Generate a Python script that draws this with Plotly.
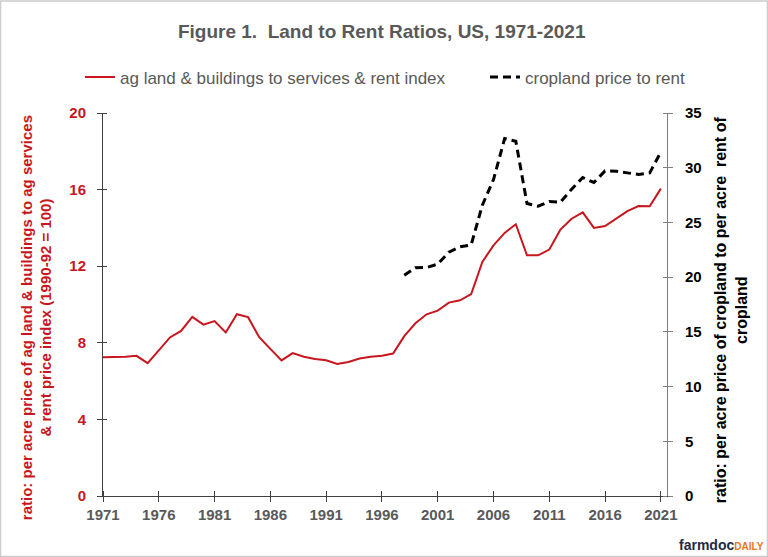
import plotly.graph_objects as go

years = list(range(1971, 2022))
ag_land_ratio = [7.24, 7.24, 7.27, 7.32, 6.94, 7.6, 8.28, 8.62, 9.35, 8.95,
                 9.13, 8.54, 9.49, 9.34, 8.29, 7.68, 7.08, 7.46, 7.27, 7.15,
                 7.09, 6.89, 7.0, 7.18, 7.27, 7.32, 7.44, 8.35, 9.02, 9.49,
                 9.68, 10.1, 10.22, 10.54, 12.22, 13.09, 13.74, 14.19, 12.57, 12.57,
                 12.87, 13.91, 14.48, 14.81, 14.0, 14.1, 14.5, 14.88, 15.14, 15.13,
                 16.05]
crop_years = list(range(1998, 2022))
cropland_ratio = [20.18, 20.85, 20.88, 21.19, 22.28, 22.77, 22.95, 26.58, 28.92, 32.67,
                  32.42, 26.73, 26.48, 26.91, 26.85, 28.04, 29.1, 28.65, 29.71, 29.68,
                  29.53, 29.38, 29.53, 31.44]
x_ticks = list(range(1971, 2022, 5))
left_ticks = [0, 4, 8, 12, 16, 20]
right_ticks = [0, 5, 10, 15, 20, 25, 30, 35]

RED = "#C8161E"
GRAY = "#595959"
FONT = "Liberation Sans, Arial, sans-serif"

fig = go.Figure()
fig.add_trace(go.Scatter(x=years, y=ag_land_ratio, mode="lines",
                         name="ag land & buildings to services & rent index",
                         line=dict(color=RED, width=2), yaxis="y", legend="legend"))
fig.add_trace(go.Scatter(x=crop_years, y=cropland_ratio, mode="lines",
                         name="cropland price to rent",
                         line=dict(color="black", width=3, dash="8px,5px"), yaxis="y2",
                         legend="legend2"))

legend_common = dict(orientation="h", xanchor="left", y=1.093, yanchor="middle",
                     font=dict(size=17, color=GRAY, family=FONT),
                     bgcolor="rgba(0,0,0,0)")

fig.update_layout(
    width=768, height=557, autosize=False,
    paper_bgcolor="white", plot_bgcolor="white",
    margin=dict(l=103, r=101, t=113, b=61),
    font=dict(family=FONT, size=15, color=GRAY),
    title=dict(text="<b>Figure 1.  Land to Rent Ratios, US, 1971-2021</b>",
               x=0.497, xref="container", xanchor="center",
               y=1 - 31 / 557, yref="container", yanchor="middle",
               font=dict(size=19, color=GRAY, family=FONT)),
    showlegend=True,
    legend=dict(x=(80 - 103) / 564, **legend_common),
    legend2=dict(x=(485 - 103) / 564, **legend_common),
    xaxis=dict(range=[1971, 2021.55], tickmode="array", tickvals=x_ticks,
               ticktext=[str(v) for v in x_ticks],
               showgrid=False, zeroline=False, showline=True, linecolor="#404040", linewidth=1,
               ticks="outside", ticklen=5, tickcolor="#404040",
               minor=dict(tickmode="array", tickvals=x_ticks, ticks="inside", ticklen=5,
                          tickcolor="#404040", showgrid=False),
               tickfont=dict(size=15, color=GRAY, family=FONT, weight="bold"),
               ticklabelstandoff=0),
    yaxis=dict(range=[0, 20], tickmode="array", tickvals=left_ticks,
               showgrid=False, zeroline=False, showline=True, linecolor="#404040", linewidth=1,
               ticks="outside", ticklen=5, tickcolor="#404040",
               minor=dict(tickmode="array", tickvals=left_ticks, ticks="inside", ticklen=4,
                          tickcolor="#404040", showgrid=False),
               tickfont=dict(size=15, color=RED, family=FONT, weight="bold"),
               ticklabelstandoff=8),
    yaxis2=dict(range=[0, 35], tickmode="array", tickvals=right_ticks,
                overlaying="y", side="right",
                showgrid=False, zeroline=False, showline=True, linecolor="#808080", linewidth=1,
                ticks="outside", ticklen=5, tickcolor="#808080",
                minor=dict(tickmode="array", tickvals=right_ticks, ticks="inside", ticklen=4,
                           tickcolor="#808080", showgrid=False),
                tickfont=dict(size=15, color="black", family=FONT, weight="bold"),
                ticklabelstandoff=9),
)

fig.add_annotation(
    text="<b>ratio: per acre price of ag land & buildings to ag services<br>& rent price index (1990-92 = 100)</b>",
    xref="paper", yref="paper", x=(36 - 103) / 564, y=(496 - 318) / 383.3,
    xanchor="center", yanchor="middle", textangle=-90, showarrow=False,
    font=dict(size=15, color=RED, family=FONT))
fig.add_annotation(
    text="<b>ratio: per acre price of cropland to per acre&nbsp; rent of<br>cropland</b>",
    xref="paper", yref="paper", x=(731 - 103) / 564, y=(496 - 310) / 383.3,
    xanchor="center", yanchor="middle", textangle=-90, showarrow=False,
    font=dict(size=16, color="black", family=FONT))
fig.add_annotation(
    text="<b>farmdoc</b><b><span style='color:#E87722;font-size:10px'>DAILY</span></b>",
    xref="paper", yref="paper", x=(766 - 103) / 564, y=(496 - 545) / 383.3,
    xanchor="right", yanchor="middle", showarrow=False,
    font=dict(size=14, color="#1F2A44", family=FONT))

fig.add_shape(type="rect", xref="paper", yref="paper",
              x0=(0.5 - 103) / 564, x1=(767.5 - 103) / 564,
              y0=(496 - 556.5) / 383.3, y1=(496 - 0.5) / 383.3,
              line=dict(color="#CCCCCC", width=1.5), fillcolor="rgba(0,0,0,0)", layer="below")

fig.write_html("out.html")
